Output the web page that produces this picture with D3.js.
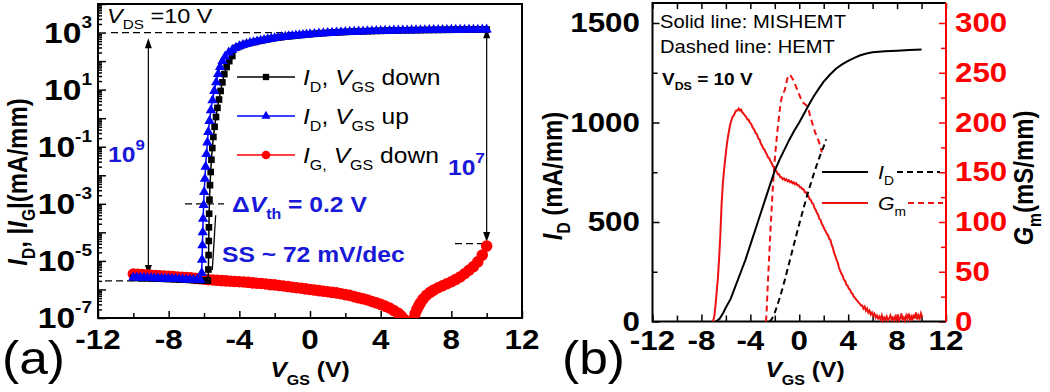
<!DOCTYPE html>
<html><head><meta charset="utf-8">
<script src="https://cdn.jsdelivr.net/npm/d3@7"></script>
<style>body{margin:0;background:#fff}svg text{white-space:pre}</style>
</head><body>
<svg id="c" width="1050" height="392" xmlns="http://www.w3.org/2000/svg"></svg>
<script>
// ---------------- DATA ----------------
// Panel (a): transfer curves, |I| in mA/mm vs VGS in V
const vgsTicksA = [-12, -8, -4, 0, 4, 8, 12];
const vgsMinorA = [-10, -6, -2, 2, 6, 10];
const logTickExps = [-7, -5, -3, -1, 1, 3];

const idOffDown = [[-10,2.55e-6],[-9.8,2.53e-6],[-9.6,2.51e-6],[-9.4,2.49e-6],[-9.2,2.46e-6],[-9,2.44e-6],[-8.8,2.42e-6],[-8.6,2.39e-6],[-8.4,2.37e-6],[-8.2,2.34e-6],[-8,2.32e-6],[-7.8,2.29e-6],[-7.6,2.27e-6],[-7.4,2.24e-6],[-7.2,2.21e-6],[-7,2.19e-6],[-6.8,2.16e-6],[-6.6,2.13e-6],[-6.4,2.1e-6],[-6.2,2.08e-6],[-6,2.05e-6],[-5.8,2.03e-6]];
const idSteepDown = [[-5.78,2.1e-6],[-5.75,5e-6],[-5.74,1.6e-5],[-5.73,5e-5],[-5.72,1.5e-4],[-5.71,4.5e-4],[-5.69,1.4e-3],[-5.66,4.5e-3],[-5.62,1.3e-2],[-5.58,3.5e-2],[-5.53,0.09],[-5.47,0.22],[-5.40,0.5],[-5.32,1.1],[-5.24,2.3],[-5.15,4.5],[-5.06,9],[-4.96,18],[-4.85,35],[-4.72,62],[-4.57,100],[-4.4,150]];
const idOffUp = [[-10,2.63e-6],[-9.8,2.61e-6],[-9.6,2.58e-6],[-9.4,2.56e-6],[-9.2,2.53e-6],[-9,2.51e-6],[-8.8,2.48e-6],[-8.6,2.46e-6],[-8.4,2.43e-6],[-8.2,2.4e-6],[-8,2.38e-6],[-7.8,2.35e-6],[-7.6,2.32e-6],[-7.4,2.3e-6],[-7.2,2.27e-6],[-7,2.24e-6],[-6.8,2.21e-6],[-6.6,2.18e-6],[-6.4,2.15e-6],[-6.2,2.12e-6]];
const idSteepUp = [[-6.13,3.8e-6],[-6.11,1.1e-5],[-6.09,3.5e-5],[-6.07,1.0e-4],[-6.05,3.0e-4],[-6.02,9.0e-4],[-5.99,2.6e-3],[-5.95,7.5e-3],[-5.91,2.0e-2],[-5.86,5.5e-2],[-5.81,0.14],[-5.76,0.33],[-5.69,0.8],[-5.61,1.9],[-5.52,4.2],[-5.42,9],[-5.31,18],[-5.2,35],[-5.09,62],[-4.95,100],[-4.8,145],[-4.6,200],[-4.4,245]];
const idOnState = [[-4.2,290],[-4.0,330],[-3.8,365],[-3.6,400],[-3.4,430],[-3.2,460],[-3.0,490],[-2.8,520],[-2.6,550],[-2.4,580],[-2.2,610],[-2.0,640],[-1.8,665],[-1.6,690],[-1.4,715],[-1.2,740],[-1.0,760],[-0.8,785],[-0.6,805],[-0.4,830],[-0.2,850],[0,875],[0.25,900],[0.5,925],[0.75,950],[1,970],[1.25,990],[1.5,1010],[1.75,1030],[2,1045],[2.25,1060],[2.5,1075],[2.75,1090],[3,1100],[3.25,1115],[3.5,1125],[3.75,1135],[4,1145],[4.25,1155],[4.5,1165],[4.75,1175],[5,1180],[5.25,1190],[5.5,1195],[5.75,1205],[6,1210],[6.25,1215],[6.5,1220],[6.75,1225],[7,1230],[7.25,1235],[7.5,1240],[7.75,1245],[8,1250],[8.25,1255],[8.5,1260],[8.75,1262],[9,1265],[9.25,1268],[9.5,1270],[9.75,1272],[10,1275]];
const igDown = [[-10,3.47e-6],[-9.75,3.39e-6],[-9.5,3.31e-6],[-9.25,3.24e-6],[-9,3.16e-6],[-8.75,3.09e-6],[-8.5,3.02e-6],[-8.25,2.95e-6],[-8,2.88e-6],[-7.75,2.82e-6],[-7.5,2.75e-6],[-7.25,2.69e-6],[-7,2.63e-6],[-6.75,2.57e-6],[-6.5,2.45e-6],[-6.25,2.4e-6],[-6,2.29e-6],[-5.75,2.19e-6],[-5.5,2.14e-6],[-5.25,2.09e-6],[-5,2.04e-6],[-4.75,2.0e-6],[-4.5,1.95e-6],[-4.25,1.91e-6],[-4,1.86e-6],[-3.75,1.82e-6],[-3.5,1.78e-6],[-3.25,1.7e-6],[-3,1.66e-6],[-2.75,1.62e-6],[-2.5,1.55e-6],[-2.25,1.48e-6],[-2,1.45e-6],[-1.75,1.38e-6],[-1.5,1.32e-6],[-1.25,1.26e-6],[-1,1.2e-6],[-0.75,1.15e-6],[-0.5,1.1e-6],[-0.25,1.05e-6],[0,1.0e-6],[0.25,9.5e-7],[0.5,9.1e-7],[0.75,8.7e-7],[1,8.3e-7],[1.25,7.9e-7],[1.5,7.6e-7],[1.75,7.1e-7],[2,6.6e-7],[2.25,6.2e-7],[2.5,5.6e-7],[2.75,5.1e-7],[3,4.7e-7],[3.25,4.3e-7],[3.5,3.8e-7],[3.75,3.4e-7],[4,3.0e-7],[4.25,2.6e-7],[4.5,2.24e-7],[4.75,1.82e-7],[5,1.45e-7],[5.15,1.2e-7],[5.3,9.3e-8],[5.45,5.6e-8],[5.6,2.5e-8],[5.75,5e-8],[5.85,8.9e-8],[5.95,1.41e-7],[6.05,2.0e-7],[6.15,2.6e-7],[6.25,3.4e-7],[6.4,4.6e-7],[6.6,6.3e-7],[6.8,7.9e-7],[7,9.5e-7],[7.25,1.15e-6],[7.5,1.35e-6],[7.75,1.58e-6],[8,1.86e-6],[8.25,2.24e-6],[8.5,2.75e-6],[8.75,3.55e-6],[9,4.7e-6],[9.25,6.3e-6],[9.5,9.3e-6],[9.75,1.6e-5],[10,3.3e-5]];

// Panel (b): linear ID (mA/mm) and Gm (mS/mm)
const vgsTicksB = [-12, -8, -4, 0, 4, 8, 12];
const vgsMinorB = [-10, -6, -2, 2, 6, 10];
const idTicksB = [0, 500, 1000, 1500];
const idMinorB = [250, 750, 1250];
const gmTicksB = [0, 50, 100, 150, 200, 250, 300];
const gmMinorB = [25, 75, 125, 175, 225, 275];
const idMIS = [[-6.8,0],[-6.5,15],[-6.2,45],[-6.0,70],[-5.6,115],[-5.2,180],[-4.8,245],[-4.4,310],[-4.0,385],[-3.6,460],[-3.2,535],[-2.8,610],[-2.4,685],[-2.0,758],[-1.6,815],[-1.2,865],[-0.8,915],[-0.4,960],[0,1000],[0.4,1045],[0.8,1090],[1.2,1133],[1.6,1170],[2.0,1205],[2.5,1240],[3.0,1270],[3.5,1292],[4.0,1310],[4.5,1325],[5.0,1338],[5.5,1347],[6.0,1353],[7.0,1358],[8.0,1361],[9.0,1364],[10.0,1367]];
const idHEMT = [[-2.45,0],[-2.3,8],[-2.2,18],[-2.0,45],[-1.8,80],[-1.6,118],[-1.4,160],[-1.2,205],[-1.0,252],[-0.8,300],[-0.6,348],[-0.4,396],[-0.2,443],[0.0,490],[0.2,535],[0.4,580],[0.6,623],[0.8,665],[1.0,705],[1.2,744],[1.4,781],[1.6,816],[1.8,850],[2.0,880],[2.2,915]];
const gmMIS = [[-7.05,0],[-6.95,5],[-6.85,16],[-6.75,30],[-6.65,44],[-6.55,64],[-6.45,88],[-6.35,118],[-6.25,138],[-6.15,152],[-6.05,164],[-5.95,175],[-5.85,184],[-5.75,191],[-5.65,198],[-5.55,202],[-5.45,206],[-5.35,207],[-5.25,210],[-5.15,212],[-5.05,212],[-4.95,214],[-4.85,212],[-4.75,213],[-4.65,210],[-4.55,209],[-4.45,207],[-4.35,206],[-4.25,203],[-4.15,203],[-4.05,200],[-3.95,199],[-3.85,196],[-3.75,194],[-3.65,192],[-3.55,189],[-3.45,188],[-3.35,184],[-3.25,183],[-3.15,179],[-3.05,177],[-2.95,174],[-2.85,173],[-2.75,170],[-2.65,168],[-2.55,165],[-2.45,164],[-2.35,161],[-2.25,159],[-2.15,156],[-2.05,155],[-1.95,152],[-1.85,151],[-1.75,148],[-1.65,148],[-1.55,145],[-1.45,145],[-1.35,143],[-1.25,144],[-1.15,142],[-1.05,143],[-0.95,141],[-0.85,142],[-0.75,140],[-0.65,141],[-0.55,139],[-0.45,140],[-0.35,138],[-0.25,139],[-0.15,137],[-0.05,137],[0.05,135],[0.15,135],[0.25,133],[0.35,133],[0.45,130],[0.55,130],[0.65,127],[0.75,126],[0.85,123],[0.95,122],[1.05,119],[1.15,118],[1.25,114],[1.35,112],[1.45,109],[1.55,107],[1.65,103],[1.75,102],[1.85,98],[1.95,96],[2.05,93],[2.15,91],[2.25,88],[2.35,87],[2.45,83],[2.55,82],[2.65,77],[2.75,74],[2.85,69],[2.95,66],[3.05,62],[3.15,59],[3.25,54],[3.35,51],[3.45,48],[3.55,46],[3.65,42],[3.75,41],[3.85,37],[3.95,36],[4.05,33],[4.15,32],[4.25,29],[4.35,28],[4.45,25],[4.55,24],[4.65,22],[4.75,21],[4.85,19],[4.95,18],[5.05,16],[5.15,16],[5.25,13],[5.35,15],[5.45,11],[5.55,13],[5.65,9],[5.75,11],[5.85,7],[5.95,9],[6.05,6],[6.15,8],[6.25,4],[6.35,6],[6.45,3],[6.55,5],[6.65,2],[6.75,6],[6.85,1],[6.95,4],[7.05,2],[7.15,5],[7.25,1],[7.35,3],[7.45,6],[7.55,2],[7.65,4],[7.75,1],[7.85,5],[7.95,2],[8.05,7],[8.15,1],[8.25,3],[8.35,8],[8.45,2],[8.55,4],[8.65,1],[8.75,6],[8.85,3],[8.95,8],[9.05,2],[9.15,5],[9.25,1],[9.35,7],[9.45,3],[9.55,9],[9.65,2],[9.75,6],[9.85,3],[9.95,8],[10.05,4]];
const gmHEMT = [[-2.72,0],[-2.66,12],[-2.6,30],[-2.5,55],[-2.4,80],[-2.3,104],[-2.2,126],[-2.1,146],[-2.0,163],[-1.9,177],[-1.8,190],[-1.7,201],[-1.6,212],[-1.5,221],[-1.4,227],[-1.3,230],[-1.2,232],[-1.1,237],[-1.0,243],[-0.9,247],[-0.8,248],[-0.7,247],[-0.6,245],[-0.5,243],[-0.4,240],[-0.3,237],[-0.2,234],[-0.1,231],[0.0,228],[0.1,225],[0.2,222],[0.3,220],[0.4,219],[0.5,218],[0.6,217],[0.7,215],[0.8,211],[0.9,206],[1.0,202],[1.1,198],[1.2,194],[1.3,190],[1.4,187],[1.5,184],[1.6,181],[1.7,177],[1.8,172],[1.85,170]];

// ---------------- DRAWING ----------------
const FONT = '"Liberation Sans", Arial, Helvetica, sans-serif';
const SX = 1.12;
const BLUE = '#0000ff', BLUE_T = '#1818d8', RED = '#ff0000', RED_B = '#ee1111';
const svg = d3.select('#c');

function label(parent, x, y, parts, o) {
  o = Object.assign({size: 20, weight: 'normal', anchor: 'start', fill: '#000', rot: 0, sx: SX}, o);
  const g = parent.append('g').attr('transform', `translate(${x},${y}) scale(${o.sx},1)` + (o.rot ? ` rotate(${o.rot})` : ''));
  const t = g.append('text').attr('text-anchor', o.anchor).attr('font-family', FONT)
    .attr('font-size', o.size).attr('font-weight', o.weight).attr('fill', o.fill);
  let cur = 0;
  parts.forEach(p => {
    if (typeof p === 'string') p = {t: p};
    const shift = p.dy !== undefined ? p.dy : (p.sub ? o.size * 0.3 : p.sup ? -o.size * 0.5 : 0);
    const ts = t.append('tspan').text(p.t).attr('dy', shift - cur);
    cur = shift;
    if (p.i) ts.attr('font-style', 'italic');
    if (p.sub || p.sup) ts.attr('font-size', p.size || o.size * 0.65);
    else if (p.size) ts.attr('font-size', p.size);
  });
  return g;
}

// ======== Panel (a) ========
const xA = d3.scaleLinear().domain([-12, 12]).range([98, 522]);
const yA = d3.scaleLog().domain([1e-7, 1e4]).range([318, 4]);
const gA = svg.append('g');
gA.append('clipPath').attr('id', 'clipA').append('rect')
  .attr('x', 98).attr('y', 4).attr('width', 424).attr('height', 314);

function axisA(axis, tr) {
  gA.append('g').attr('transform', tr).attr('color', '#000').call(axis)
    .call(g => g.select('.domain').remove())
    .call(g => g.selectAll('line').attr('stroke-width', 1.5));
}
axisA(d3.axisBottom(xA).tickValues(vgsTicksA).tickSize(-7).tickFormat(''), 'translate(0,318)');
axisA(d3.axisBottom(xA).tickValues(vgsMinorA).tickSize(-5).tickFormat(''), 'translate(0,318)');
const decades = d3.range(-7, 5).map(e => Math.pow(10, e));
const subDec = [];
d3.range(-7, 4).forEach(e => d3.range(2, 10).forEach(m => subDec.push(m * Math.pow(10, e))));
axisA(d3.axisLeft(yA).tickValues(decades).tickSize(-8).tickFormat(''), 'translate(98,0)');
axisA(d3.axisLeft(yA).tickValues(subDec).tickSize(-4).tickFormat(''), 'translate(98,0)');
gA.append('rect').attr('x', 98).attr('y', 4).attr('width', 424).attr('height', 314)
  .attr('fill', 'none').attr('stroke', '#000').attr('stroke-width', 2);

vgsTicksA.forEach(v => label(gA, xA(v), 349, [String(v)], {size: 28, weight: 'bold', anchor: 'middle'}));
logTickExps.forEach(e => label(gA, 92, yA(Math.pow(10, e)) + 10,
  [{t: '10'}, {t: String(e), sup: true, size: 17, dy: -15}], {size: 30, weight: 'bold', anchor: 'end'}));

// annotations (dashed guides, arrows)
const ann = gA.append('g').attr('stroke', '#000').attr('fill', 'none');
ann.append('line').attr('x1', 111).attr('x2', 308).attr('y1', yA(1e3)).attr('y2', yA(1e3)).attr('stroke-width', 1.3).attr('stroke-dasharray', '7,4');
ann.append('line').attr('x1', 105).attr('x2', 205).attr('y1', yA(2e-6)).attr('y2', yA(2e-6)).attr('stroke-width', 1.3).attr('stroke-dasharray', '7,4');
ann.append('line').attr('x1', 455).attr('x2', 487).attr('y1', yA(4e-5)).attr('y2', yA(4e-5)).attr('stroke-width', 1.3).attr('stroke-dasharray', '7,4');
ann.append('line').attr('x1', 185).attr('x2', 224).attr('y1', yA(1e-3)).attr('y2', yA(1e-3)).attr('stroke-width', 1.3).attr('stroke-dasharray', '7,4');
ann.append('line').attr('x1', xA(-5.34)).attr('y1', yA(4e-4)).attr('x2', xA(-5.53)).attr('y2', yA(4.8e-6)).attr('stroke-width', 1.3);

function dblArrow(x, y1, y2) {
  ann.append('line').attr('x1', x).attr('x2', x).attr('y1', y1 + 8).attr('y2', y2 - 8).attr('stroke-width', 1.2);
  ann.append('path').attr('d', `M${x},${y1} l-3.5,10 l7,0 z`).attr('fill', '#000').attr('stroke', 'none');
  ann.append('path').attr('d', `M${x},${y2} l-3.5,-10 l7,0 z`).attr('fill', '#000').attr('stroke', 'none');
}
dblArrow(xA(-9.15), yA(630), yA(3.2e-6));
dblArrow(xA(10.0), yA(1400), yA(4.6e-5));

// series
const lineA = d3.line().x(d => xA(d[0])).y(d => yA(d[1]));
const plotA = gA.append('g').attr('clip-path', 'url(#clipA)');
function seriesA(data, color, symType, size) {
  plotA.append('path').datum(data).attr('d', lineA).attr('fill', 'none').attr('stroke', color).attr('stroke-width', 1.5);
  plotA.append('g').selectAll('path').data(data).join('path')
    .attr('transform', d => `translate(${xA(d[0])},${yA(d[1])})`)
    .attr('d', d3.symbol().type(symType).size(size)).attr('fill', color);
}
seriesA(igDown, RED, d3.symbolCircle, 105);
seriesA(idOffDown.concat(idSteepDown, idOnState), '#000', d3.symbolSquare, 44);
seriesA(idOffUp.concat(idSteepUp, idOnState), BLUE, d3.symbolTriangle, 46);

// legend (a)
const legA = [
  {y: 77, color: '#000', sym: d3.symbolSquare, size: 40, parts: [{t: 'I', i: 1}, {t: 'D', sub: 1}, ', ', {t: 'V', i: 1}, {t: 'GS', sub: 1}, ' down']},
  {y: 116, color: BLUE, sym: d3.symbolTriangle, size: 36, parts: [{t: 'I', i: 1}, {t: 'D', sub: 1}, ', ', {t: 'V', i: 1}, {t: 'GS', sub: 1}, ' up']},
  {y: 155, color: RED, sym: d3.symbolCircle, size: 60, parts: [{t: 'I', i: 1}, {t: 'G,', sub: 1}, ' ', {t: 'V', i: 1}, {t: 'GS', sub: 1}, ' down']}
];
legA.forEach(l => {
  gA.append('line').attr('x1', 237).attr('x2', 295).attr('y1', l.y).attr('y2', l.y).attr('stroke', l.color).attr('stroke-width', 1.5);
  gA.append('path').attr('transform', `translate(266,${l.y})`).attr('d', d3.symbol().type(l.sym).size(l.size)).attr('fill', l.color);
  label(gA, 303, l.y + 8, l.parts, {size: 22});
});

// text annotations (a)
label(gA, 107, 23, [{t: 'V', i: 1}, {t: 'DS', sub: 1}, ' =10 V'], {size: 21});
label(gA, 108, 162, ['10', {t: '9', sup: 1, size: 15, dy: -12}], {size: 22, weight: 'bold', fill: BLUE_T});
label(gA, 448, 175, ['10', {t: '7', sup: 1, size: 15, dy: -12}], {size: 22, weight: 'bold', fill: BLUE_T});
label(gA, 232, 212, ['\u0394', {t: 'V', i: 1}, {t: 'th', sub: 1}, ' = 0.2 V'], {size: 22, weight: 'bold', fill: BLUE_T});
label(gA, 222, 262, ['SS ~ 72 mV/dec'], {size: 22, weight: 'bold', fill: BLUE_T});

// axis titles (a)
label(gA, 310, 377, [{t: 'V', i: 1}, {t: 'GS', sub: 1, dy: 8}, ' (V)'], {size: 22, weight: 'bold', anchor: 'middle'});
label(gA, 27, 182, [{t: 'I', i: 1}, {t: 'D', sub: 1}, ', |', {t: 'I', i: 1}, {t: 'G', sub: 1}, '|(mA/mm)'], {size: 24, weight: 'bold', anchor: 'middle', rot: -90});
label(gA, 2, 374, ['(a)'], {size: 46});

// ======== Panel (b) ========
const xB = d3.scaleLinear().domain([-12, 12]).range([652.5, 946]);
const yB = d3.scaleLinear().domain([0, 1600]).range([321.5, 3.1]);
const yG = d3.scaleLinear().domain([0, 320]).range([321.5, 3.1]);
const gB = svg.append('g');

function axisB(axis, tr, color) {
  gB.append('g').attr('transform', tr).attr('color', color || '#000').call(axis)
    .call(g => g.select('.domain').remove())
    .call(g => g.selectAll('line').attr('stroke-width', 1.5));
}
axisB(d3.axisBottom(xB).tickValues(vgsTicksB).tickSize(-7).tickFormat(''), 'translate(0,321.5)');
axisB(d3.axisBottom(xB).tickValues(vgsMinorB).tickSize(-6).tickFormat(''), 'translate(0,321.5)');
axisB(d3.axisTop(xB).tickValues(vgsTicksB.concat(vgsMinorB)).tickSize(-6).tickFormat(''), 'translate(0,3.1)');
axisB(d3.axisLeft(yB).tickValues(idTicksB).tickSize(-7).tickFormat(''), 'translate(652.5,0)');
axisB(d3.axisLeft(yB).tickValues(idMinorB).tickSize(-5).tickFormat(''), 'translate(652.5,0)');
axisB(d3.axisRight(yG).tickValues(gmTicksB).tickSize(-7).tickFormat(''), 'translate(946,0)', RED);
axisB(d3.axisRight(yG).tickValues(gmMinorB).tickSize(-5).tickFormat(''), 'translate(946,0)', RED);
gB.append('path').attr('d', `M946,3.1 H652.5 V321.5 H946`).attr('fill', 'none').attr('stroke', '#000').attr('stroke-width', 2);
gB.append('line').attr('x1', 946).attr('x2', 946).attr('y1', 3.1).attr('y2', 321.5).attr('stroke', RED).attr('stroke-width', 2);

vgsTicksB.forEach(v => label(gB, xB(v), 350, [String(v)], {size: 28, weight: 'bold', anchor: 'middle'}));
idTicksB.forEach(v => label(gB, 640, yB(v) + 9, [String(v)], {size: 28, weight: 'bold', anchor: 'end'}));
gmTicksB.forEach(v => label(gB, 955, yG(v) + 9, [String(v)], {size: 28, weight: 'bold', fill: RED}));

const lineID = d3.line().x(d => xB(d[0])).y(d => yB(d[1]));
const lineGm = d3.line().x(d => xB(d[0])).y(d => yG(d[1]));
gB.append('path').datum(gmMIS).attr('d', lineGm).attr('fill', 'none').attr('stroke', RED_B).attr('stroke-width', 2);
gB.append('path').datum(gmHEMT).attr('d', lineGm).attr('fill', 'none').attr('stroke', RED_B).attr('stroke-width', 2).attr('stroke-dasharray', '6,4');
gB.append('path').datum(idMIS).attr('d', lineID).attr('fill', 'none').attr('stroke', '#000').attr('stroke-width', 2);
gB.append('path').datum(idHEMT).attr('d', lineID).attr('fill', 'none').attr('stroke', '#000').attr('stroke-width', 2).attr('stroke-dasharray', '6,4');

// legend (b)
[{y: 172, c: '#000', parts: [{t: 'I', i: 1}, {t: 'D', sub: 1}], dx1: 897, dx2: 940},
 {y: 203, c: RED_B, parts: [{t: 'G', i: 1}, {t: 'm', sub: 1}], dx1: 908, dx2: 943}].forEach(l => {
  gB.append('line').attr('x1', 822).attr('x2', 868).attr('y1', l.y).attr('y2', l.y).attr('stroke', l.c).attr('stroke-width', 2);
  gB.append('line').attr('x1', l.dx1).attr('x2', l.dx2).attr('y1', l.y).attr('y2', l.y).attr('stroke', l.c).attr('stroke-width', 2).attr('stroke-dasharray', '6,4');
  label(gB, 878, l.y + 7, l.parts, {size: 19});
});

label(gB, 660, 28, ['Solid line: MISHEMT'], {size: 18});
label(gB, 660, 53, ['Dashed line: HEMT'], {size: 18});
label(gB, 662, 85, ['V', {t: 'DS', sub: 1}, ' = 10 V'], {size: 17, weight: 'bold'});

label(gB, 805, 377, [{t: 'V', i: 1}, {t: 'GS', sub: 1, dy: 8}, ' (V)'], {size: 22, weight: 'bold', anchor: 'middle'});
label(gB, 562, 176, [{t: 'I', i: 1}, {t: 'D', sub: 1}, ' (mA/mm)'], {size: 24, weight: 'bold', anchor: 'middle', rot: -90});
label(gB, 1033, 178, [{t: 'G', i: 1}, {t: 'm', sub: 1}, '(mS/mm)'], {size: 24, weight: 'bold', anchor: 'middle', rot: -90});
label(gB, 562, 374, ['(b)'], {size: 46});
</script>
</body></html>
